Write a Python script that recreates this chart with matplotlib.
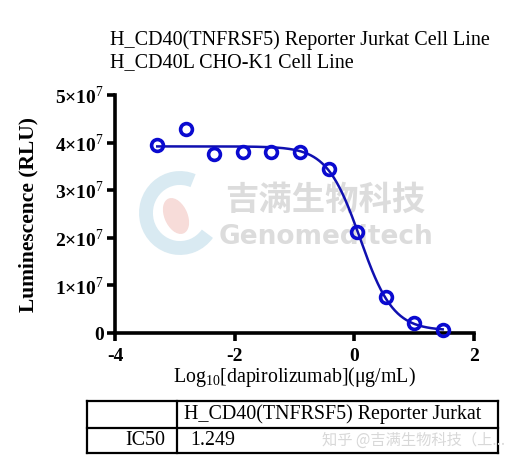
import matplotlib
matplotlib.use("Agg")
import matplotlib.pyplot as plt
import numpy as np
from matplotlib.lines import Line2D
from matplotlib.patches import Arc, Ellipse

# measured points, 3-fold dilution from 30 ug/mL
log_conc = [-3.294, -2.817, -2.340, -1.862, -1.385, -0.908, -0.431, 0.046, 0.523, 1.000, 1.477]
rlu = [3.95e7, 4.29e7, 3.77e7, 3.80e7, 3.80e7, 3.80e7, 3.45e7, 2.13e7, 0.76e7, 0.20e7, 0.06e7]

# 4PL fit parameters
TOP, BOTTOM, IC50, HILL = 3.92e7, 0.05e7, 1.249, 1.57

yticks = [0, 1e7, 2e7, 3e7, 4e7, 5e7]
ytick_labels = ["0", r"1×10$^{7}$", r"2×10$^{7}$", r"3×10$^{7}$", r"4×10$^{7}$", r"5×10$^{7}$"]
xticks = [-4, -2, 0, 2]

plt.rcParams.update({"font.family": ["Liberation Serif", "Noto Sans CJK SC"], "mathtext.fontset": "custom",
                     "mathtext.rm": "Liberation Serif", "mathtext.bf": "Liberation Serif:bold"})

W, H = 521, 470
fig = plt.figure(figsize=(W / 100, H / 100), dpi=100)
ax = fig.add_axes([115 / W, 1 - 333 / H, (474 - 115) / W, (333 - 95) / H])
ax.patch.set_alpha(0)

BLUE = "#0a0ad0"
xf = np.linspace(log_conc[0], log_conc[-1], 300)
yf = BOTTOM + (TOP - BOTTOM) / (1 + 10 ** (HILL * (xf - np.log10(IC50))))
ax.plot(xf, yf, color="#1010b0", lw=1.8, zorder=3)
ax.plot(log_conc, rlu, "o", ms=8.5, mfc="none", mec=BLUE, mew=2.6, zorder=4, clip_on=False)

ax.set_xlim(-4, 2)
ax.set_ylim(0, 5e7)
ax.set_xticks(xticks)
ax.set_xticklabels([str(t) for t in xticks], fontweight="bold", fontsize=14)
ax.set_yticks(yticks)
ax.set_yticklabels(ytick_labels, fontweight="bold", fontsize=14)
for s in ["top", "right"]:
    ax.spines[s].set_visible(False)
for s in ["left", "bottom"]:
    ax.spines[s].set_linewidth(2.6)
ax.tick_params(width=2.6, length=6, direction="out", pad=2)
ax.tick_params(axis="x", pad=5)
ax.set_ylabel("Luminescence (RLU)", fontweight="bold", fontsize=15.5, labelpad=12)
ax.set_xlabel(r"Log$_{10}$[dapirolizumab](μg/mL)", fontsize=14.3, labelpad=0)

# watermark, kept behind the axes content
wm = "#dcdcdc"
fig.add_artist(Arc((180 / W, 1 - 213 / H), 68 / W, 70 / H, theta1=70, theta2=320,
                   color="#d9eaf2", lw=10, zorder=-1))
fig.add_artist(Ellipse((176 / W, 1 - 216 / H), 22 / W, 36 / H, angle=20, color="#f7dcd9", zorder=-1))
fig.text(325 / W, 1 - 200 / H, "吉满生物科技", fontsize=24, color=wm, zorder=-1,
         family="Noto Sans CJK SC", fontweight="bold", ha="center", va="center")
fig.text(326 / W, 1 - 237 / H, "Genomeditech", fontsize=19, color=wm, zorder=-1,
         family="DejaVu Sans", fontweight="bold", ha="center", va="center")

fig.text(110 / W, 1 - 40 / H, "H_CD40(TNFRSF5) Reporter Jurkat Cell Line", fontsize=14.5, va="center")
fig.text(110 / W, 1 - 63 / H, "H_CD40L CHO-K1 Cell Line", fontsize=14.5, va="center")

# IC50 table
x0, x1, xm = 87 / W, 498 / W, 177 / W
y0, y1, ym = 1 - 453 / H, 1 - 401 / H, 1 - 428 / H
for xs, ys in [([x0, x1], [y0, y0]), ([x0, x1], [y1, y1]), ([x0, x1], [ym, ym]),
               ([x0, x0], [y0, y1]), ([x1, x1], [y0, y1]), ([xm, xm], [y0, y1])]:
    fig.add_artist(Line2D(xs, ys, color="black", lw=1.6))
fig.text(184 / W, (y1 + ym) / 2, "H_CD40(TNFRSF5) Reporter Jurkat", fontsize=14.4, va="center")
fig.text(165 / W, (ym + y0) / 2, "IC50", fontsize=14.4, va="center", ha="right")
fig.text(190 / W, (ym + y0) / 2, "1.249", fontsize=14.4, va="center")
fig.text(322 / W, (ym + y0) / 2, "知乎 @吉满生物科技（上...", fontsize=11, va="center",
         family=["Noto Sans CJK SC", "DejaVu Sans"], color="#d8d8d8")

fig.savefig("out.png", dpi=100)
